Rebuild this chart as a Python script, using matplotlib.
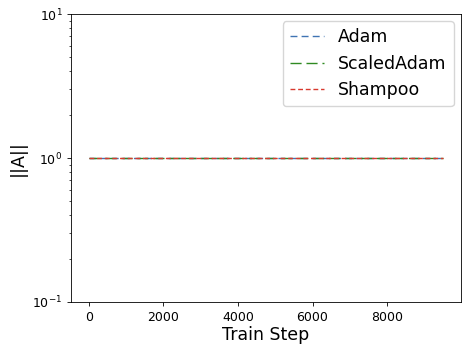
import matplotlib
matplotlib.use("Agg")
import matplotlib.pyplot as plt

# train steps and measured ||A|| for each optimizer
steps = [0, 500, 1000, 1500, 2000, 2500, 3000, 3500, 4000, 4500,
         5000, 5500, 6000, 6500, 7000, 7500, 8000, 8500, 9000, 9500]
adam = [1.0, 1.0, 1.0, 1.0, 1.0, 1.0, 1.0, 1.0, 1.0, 1.0,
        1.0, 1.0, 1.0, 1.0, 1.0, 1.0, 1.0, 1.0, 1.0, 1.0]
scaled_adam = [1.0, 1.0, 1.0, 1.0, 1.0, 1.0, 1.0, 1.0, 1.0, 1.0,
               1.0, 1.0, 1.0, 1.0, 1.0, 1.0, 1.0, 1.0, 1.0, 1.0]
shampoo = [1.0, 1.0, 1.0, 1.0, 1.0, 1.0, 1.0, 1.0, 1.0, 1.0,
           1.0, 1.0, 1.0, 1.0, 1.0, 1.0, 1.0, 1.0, 1.0, 1.0]

fig = plt.figure(figsize=(4.74, 3.54), dpi=100)
ax = fig.add_axes([0.15, 0.147, 0.822, 0.813])

ax.plot(steps, adam, color='#3f74b3', linestyle=(0, (5, 3)), linewidth=1.0, label='Adam')
ax.plot(steps, scaled_adam, color='#2f8a22', linestyle=(0, (8, 3.5)), linewidth=1.0, label='ScaledAdam')
ax.plot(steps, shampoo, color='#d8392e', linestyle=(0, (3.5, 2)), linewidth=1.0, label='Shampoo')

ax.set_yscale('log')
ax.set_ylim(0.1, 10)
ax.set_xticks([0, 2000, 4000, 6000, 8000])
ax.tick_params(which='major', labelsize=9, length=2.8, width=0.6)
ax.tick_params(which='minor', length=1.6, width=0.5)
for s in ax.spines.values():
    s.set_linewidth(0.6)
ax.set_xlabel('Train Step', fontsize=12.5, labelpad=2)
ax.set_ylabel('||A||', fontsize=12.5, labelpad=4)
ax.legend(loc='upper right', fontsize=12.5, handlelength=2.0, borderaxespad=0.4)

fig.savefig('out.png', dpi=100)
